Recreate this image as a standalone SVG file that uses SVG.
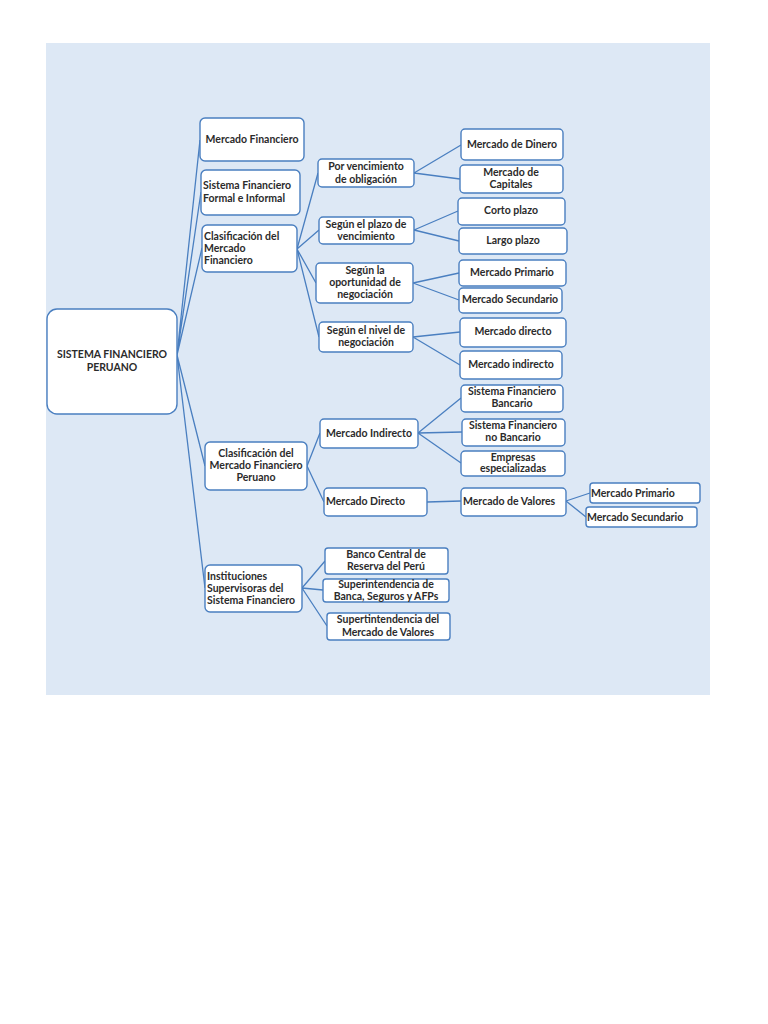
<svg xmlns="http://www.w3.org/2000/svg" width="768" height="1024" viewBox="0 0 768 1024">
<style>
.n rect{fill:#fff;stroke:#4a7fc0;stroke-width:1.4}
.n text{font-family:Lato,"Liberation Sans",sans-serif;font-weight:bold;font-size:10.5px;fill:#2b2b2b;text-anchor:middle}
.n text.l{text-anchor:start}
#c path{fill:none;stroke:#4a7fc0;stroke-width:1.3}
</style>
<rect x="0" y="0" width="768" height="1024" fill="#fff"/>
<rect x="46" y="43" width="664" height="652" fill="#dde8f5"/>
<g id="c">
<path d="M177 355L200 140M177 355L201 192M177 355L202 248M177 355L205 466M177 355L205 588"/>
<path d="M297 249L318 173M297 249L319 230M297 249L316 283M297 249L319 337"/>
<path d="M414 173L461 145M414 173L460 179M414 230L458 211M414 230L459 241M413 283L459 273M413 283L459 300M413 337L460 332M413 337L460 365"/>
<path d="M307 466L320 433M307 466L324 502M418 433L461 398M418 433L462 432M418 433L461 463M427 502L461 501M566 501L590 493M566 501L586 517"/>
<path d="M302 588L325 561M302 588L323 590M302 588L327 626"/>
</g>
<g id="root" class="n"><rect x="47" y="309" width="130" height="105" rx="10"/><text x="112" y="358">SISTEMA FINANCIERO</text><text x="112" y="371">PERUANO</text></g>
<g id="mf" class="n"><rect x="200" y="118" width="104" height="43" rx="5"/><text x="252" y="143">Mercado Financiero</text></g>
<g id="sffi" class="n"><rect x="201" y="170" width="99" height="45" rx="5"/><text class="l" x="203" y="189">Sistema Financiero</text><text class="l" x="203" y="202">Formal e Informal</text></g>
<g id="cmf" class="n"><rect x="202" y="225" width="95" height="47" rx="5"/><text class="l" x="204" y="240">Clasificación del</text><text class="l" x="204" y="252">Mercado</text><text class="l" x="204" y="264">Financiero</text></g>
<g id="pv" class="n"><rect x="318" y="159" width="96" height="28" rx="4"/><text x="366" y="170">Por vencimiento</text><text x="366" y="183">de obligación</text></g>
<g id="spv" class="n"><rect x="319" y="217" width="95" height="27" rx="4"/><text x="366" y="228">Según el plazo de</text><text x="366" y="240">vencimiento</text></g>
<g id="son" class="n"><rect x="316" y="263" width="97" height="40" rx="4"/><text x="365" y="274">Según la</text><text x="365" y="286">oportunidad de</text><text x="365" y="298">negociación</text></g>
<g id="snn" class="n"><rect x="319" y="322" width="94" height="30" rx="4"/><text x="366" y="334">Según el nivel de</text><text x="366" y="346">negociación</text></g>
<g id="md" class="n"><rect x="461" y="129" width="102" height="31" rx="4"/><text x="512" y="148">Mercado de Dinero</text></g>
<g id="mc" class="n"><rect x="460" y="165" width="103" height="28" rx="4"/><text x="511" y="176">Mercado de</text><text x="511" y="188">Capitales</text></g>
<g id="cp" class="n"><rect x="458" y="198" width="107" height="27" rx="4"/><text x="511" y="214">Corto plazo</text></g>
<g id="lp" class="n"><rect x="459" y="228" width="108" height="26" rx="4"/><text x="513" y="244">Largo plazo</text></g>
<g id="mp" class="n"><rect x="459" y="260" width="107" height="26" rx="4"/><text x="512" y="276">Mercado Primario</text></g>
<g id="ms" class="n"><rect x="459" y="288" width="103" height="25" rx="4"/><text x="510" y="303">Mercado Secundario</text></g>
<g id="mdir" class="n"><rect x="460" y="318" width="106" height="29" rx="4"/><text x="513" y="335">Mercado directo</text></g>
<g id="mind" class="n"><rect x="460" y="351" width="102" height="28" rx="4"/><text x="511" y="368">Mercado indirecto</text></g>
<g id="cmfp" class="n"><rect x="205" y="442" width="102" height="48" rx="5"/><text x="256" y="457">Clasificación del</text><text x="256" y="469">Mercado Financiero</text><text x="256" y="481">Peruano</text></g>
<g id="mi" class="n"><rect x="320" y="419" width="98" height="29" rx="4"/><text x="369" y="437">Mercado Indirecto</text></g>
<g id="mdd" class="n"><rect x="324" y="488" width="103" height="28" rx="4"/><text class="l" x="326" y="505">Mercado Directo</text></g>
<g id="sfb" class="n"><rect x="461" y="385" width="102" height="27" rx="4"/><text x="512" y="395">Sistema Financiero</text><text x="512" y="407">Bancario</text></g>
<g id="sfnb" class="n"><rect x="462" y="419" width="103" height="27" rx="4"/><text x="513" y="429">Sistema Financiero</text><text x="513" y="441">no Bancario</text></g>
<g id="ee" class="n"><rect x="461" y="451" width="104" height="25" rx="4"/><text x="513" y="461">Empresas</text><text x="513" y="472">especializadas</text></g>
<g id="mv" class="n"><rect x="461" y="488" width="105" height="28" rx="4"/><text class="l" x="463" y="505">Mercado de Valores</text></g>
<g id="mp2" class="n"><rect x="590" y="483" width="110" height="20" rx="3"/><text class="l" x="591" y="497">Mercado Primario</text></g>
<g id="ms2" class="n"><rect x="586" y="507" width="111" height="20" rx="3"/><text class="l" x="587" y="521">Mercado Secundario</text></g>
<g id="inst" class="n"><rect x="205" y="565" width="97" height="47" rx="5"/><text class="l" x="207" y="580">Instituciones</text><text class="l" x="207" y="592">Supervisoras del</text><text class="l" x="207" y="604">Sistema Financiero</text></g>
<g id="bcr" class="n"><rect x="325" y="548" width="123" height="26" rx="3"/><text x="386" y="558">Banco Central de</text><text x="386" y="570">Reserva del Perú</text></g>
<g id="sbs" class="n"><rect x="323" y="579" width="126" height="23" rx="3"/><text x="386" y="588">Superintendencia de</text><text x="386" y="600">Banca, Seguros y AFPs</text></g>
<g id="smv" class="n"><rect x="327" y="613" width="123" height="27" rx="3"/><text x="388" y="623">Supertintendencia del</text><text x="388" y="636">Mercado de Valores</text></g>
</svg>
